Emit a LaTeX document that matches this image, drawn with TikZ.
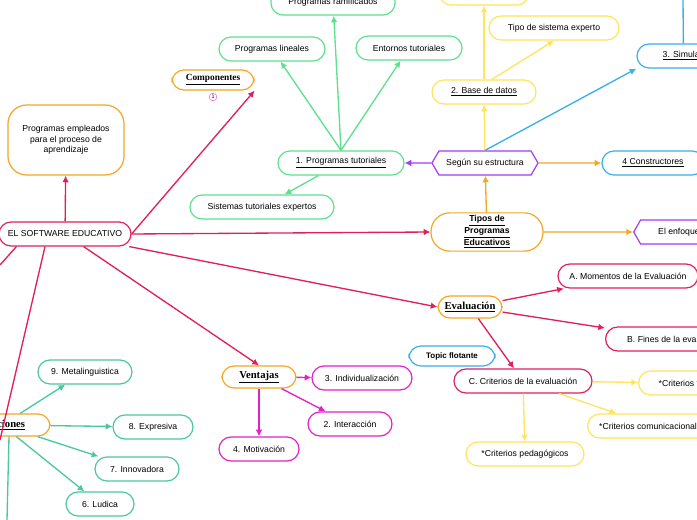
\documentclass[tikz,border=0pt]{standalone}
\usepackage{fontspec}
\setmainfont{Liberation Serif}
\newfontfamily\hand{Liberation Sans}
\usetikzlibrary{shapes.symbols,arrows.meta}
\definecolor{cr}{HTML}{E0205C}
\definecolor{gr}{HTML}{5EE08F}
\definecolor{orr}{HTML}{F5A623}
\definecolor{ye}{HTML}{FFE45C}
\definecolor{bl}{HTML}{3AAFEA}
\definecolor{pu}{HTML}{A53BF5}
\definecolor{ma}{HTML}{E022C8}
\definecolor{te}{HTML}{4CC7A0}
\tikzset{
 bx/.style={draw=#1,line width=0.9pt,rounded corners=9pt,fill=white,align=center,font=\hand\fontsize{6.5}{8}\selectfont,inner sep=2pt},
 hx/.style={draw=#1,line width=0.9pt,signal,signal to=west and east,signal pointer angle=120,fill=white,font=\hand\fontsize{6.5}{8}\selectfont,inner sep=2pt},
 ed/.style={draw=#1,line width=1pt,-{Latex[length=5pt,width=5pt]}},
 bt/.style={font=\bfseries\fontsize{8}{9}\selectfont}
}
\begin{document}
\begin{tikzpicture}[x=0.75pt,y=-0.75pt]
\useasboundingbox (0,0) rectangle (697,520);
\fill[white] (0,0) rectangle (697,520);
% nodes
\node[bx=gr,minimum width=124pt*0.75,minimum height=26*0.75pt] (pram) at (333,2) {Programas ramificados};
\node[bx=gr,minimum width=106*0.75pt,minimum height=24*0.75pt] (plin) at (272,49) {Programas lineales};
\node[bx=gr,minimum width=106*0.75pt,minimum height=24*0.75pt] (ent) at (409,48) {Entornos tutoriales};
\node[bx=orr,bt,minimum width=82*0.75pt,minimum height=20*0.75pt,font=\bfseries\fontsize{7}{8}\selectfont] (comp) at (213,80) {\underline{Componentes}};
\node[draw=ma!70,circle,inner sep=0.8pt,font=\hand\fontsize{4}{4}\selectfont,line width=0.4pt] (one) at (213,97) {1};
\node[bx=orr,rounded corners=14pt,minimum width=116*0.75pt,minimum height=70*0.75pt] (pemp) at (66,140) {Programas empleados\\para el proceso de\\aprendizaje};
\node[bx=gr,minimum width=126*0.75pt,minimum height=24*0.75pt] (ptut) at (341,163) {\underline{1. Programas tutoriales}};
\node[bx=gr,minimum width=144*0.75pt,minimum height=24*0.75pt] (ste) at (262,207) {Sistemas tutoriales expertos};
\node[bx=cr,minimum width=132*0.75pt,minimum height=24*0.75pt] (sw) at (65,234) {EL SOFTWARE EDUCATIVO};
\node[hx=pu,minimum width=106*0.75pt,minimum height=24*0.75pt] (seg) at (485,163) {Según su estructura};
\node[bx=ye,minimum width=104*0.75pt,minimum height=24*0.75pt] (bd) at (484,92) {\underline{2. Base de datos}};
\node[bx=ye,minimum width=90*0.75pt,minimum height=24*0.75pt] (ytop) at (484,-7) {};
\node[bx=ye,minimum width=130*0.75pt,minimum height=24*0.75pt] (tse) at (554,28) {Tipo de sistema experto};
\node[bx=bl,minimum width=110*0.75pt,minimum height=24*0.75pt] (sim) at (692,56) {\underline{3. Simuladores}};
\coordinate (simtop) at (683,0);
\node[bx=bl,minimum width=102*0.75pt,minimum height=24*0.75pt] (con) at (653,163) {\underline{4 Constructores}};
\node[bx=orr,rounded corners=14pt,minimum width=112*0.75pt,minimum height=36*0.75pt,font=\hand\bfseries\fontsize{6.5}{7.5}\selectfont] (tip) at (487,232) {\underline{Tipos de}\\\underline{Programas}\\\underline{Educativos}};
\node[hx=pu,minimum width=130*0.75pt,minimum height=24*0.75pt,anchor=west] (enf) at (633,232) {El enfoque educativo};
\node[bx=orr,minimum width=64*0.75pt,minimum height=22*0.75pt,bt] (ev) at (470,307) {\underline{Evaluación}};
\node[bx=cr,minimum width=140*0.75pt,minimum height=24*0.75pt] (mom) at (628,276) {A. Momentos de la Evaluación};
\node[bx=cr,minimum width=140*0.75pt,minimum height=24*0.75pt,anchor=west] (fin) at (605,339) {B. Fines de la evaluación};
\node[bx=bl,minimum width=86*0.75pt,minimum height=20*0.75pt,font=\hand\bfseries\fontsize{6}{7}\selectfont] (tf) at (452,356) {Topic flotante};
\node[bx=cr,minimum width=138*0.75pt,minimum height=24*0.75pt] (cri) at (523,381) {C. Criterios de la evaluación};
\node[bx=ye,minimum width=110*0.75pt,minimum height=24*0.75pt,anchor=west] (ct) at (638,383) {*Criterios técnicos};
\node[bx=ye,minimum width=130*0.75pt,minimum height=24*0.75pt,anchor=west] (cc) at (587,426) {*Criterios comunicacionales};
\node[bx=ye,minimum width=118*0.75pt,minimum height=24*0.75pt] (cp) at (525,454) {*Criterios pedagógicos};
\node[bx=orr,minimum width=74*0.75pt,minimum height=22*0.75pt,bt] (ven) at (259,377) {\underline{Ventajas}};
\node[bx=ma,minimum width=100*0.75pt,minimum height=24*0.75pt] (ind) at (362,378) {3. Individualización};
\node[bx=ma,minimum width=84*0.75pt,minimum height=24*0.75pt] (int) at (350,424) {2. Interacción};
\node[bx=ma,minimum width=80*0.75pt,minimum height=24*0.75pt] (mot) at (259,449) {4. Motivación};
\node[bx=orr,minimum width=96*0.75pt,minimum height=22*0.75pt,bt] (fun) at (2,425) {\underline{Funciones}};
\node[bx=te,minimum width=94*0.75pt,minimum height=24*0.75pt] (met) at (85,372) {9. Metalinguistica};
\node[bx=te,minimum width=80*0.75pt,minimum height=24*0.75pt] (exp) at (153,427) {8. Expresiva};
\node[bx=te,minimum width=84*0.75pt,minimum height=24*0.75pt] (inn) at (137,469) {7. Innovadora};
\node[bx=te,minimum width=68*0.75pt,minimum height=24*0.75pt] (lud) at (100,504) {6. Ludica};
\coordinate (fbot) at (7,520);
\coordinate (l1) at (0,265);
\coordinate (l2) at (0,440);
% edges
\draw[ed=cr] (sw) -- (pemp);
\draw[ed=cr] (sw.east) -- (comp.south east);
\draw[ed=cr] (sw.east) -- (tip.west);
\draw[ed=cr] (sw) -- (ev.west);
\draw[ed=cr] (sw) -- (ven.north);
\draw[line width=1pt,cr] (sw.south west)++(18,0) -- (l1);
\draw[line width=1pt,cr] (sw.south)++(-20,0) -- (l2);
\draw[ed=orr] (tip) -- (seg);
\draw[ed=orr] (tip) -- (enf);
\draw[ed=pu] (seg) -- (ptut);
\draw[ed=ye] (seg) -- (bd);
\draw[ed=bl] (seg.north) -- (sim.south west);
\draw[line width=1pt,bl] (sim.north west)++(47,0) -- (simtop);
\draw[ed=orr] (seg) -- (con);
\draw[ed=ye] (bd) -- (ytop);
\draw[ed=ye] (bd.north) ++(8,0) -- (tse.south);
\draw[ed=gr] (ptut.north) -- (pram);
\draw[ed=gr] (ptut.north) -- (plin);
\draw[ed=gr] (ptut.north) -- (ent);
\draw[ed=gr] (ptut) -- (ste);
\draw[ed=cr] (ev) -- (mom);
\draw[ed=cr] (ev) -- (fin);
\draw[ed=cr] (ev) -- (cri);
\draw[ed=ye] (cri) -- (ct);
\draw[ed=ye] (cri) -- (cc);
\draw[ed=ye] (cri) -- (cp);
\draw[ed=ma] (ven) -- (ind);
\draw[ed=ma] (ven) -- (int);
\draw[ed=ma] (ven) -- (mot);
\draw[ed=te] (fun) -- (met);
\draw[ed=te] (fun) -- (exp);
\draw[ed=te] (fun) -- (inn);
\draw[ed=te] (fun) -- (lud);
\draw[line width=1pt,te] (fun.south)++(7,0) -- (fbot);
\end{tikzpicture}
\end{document}
